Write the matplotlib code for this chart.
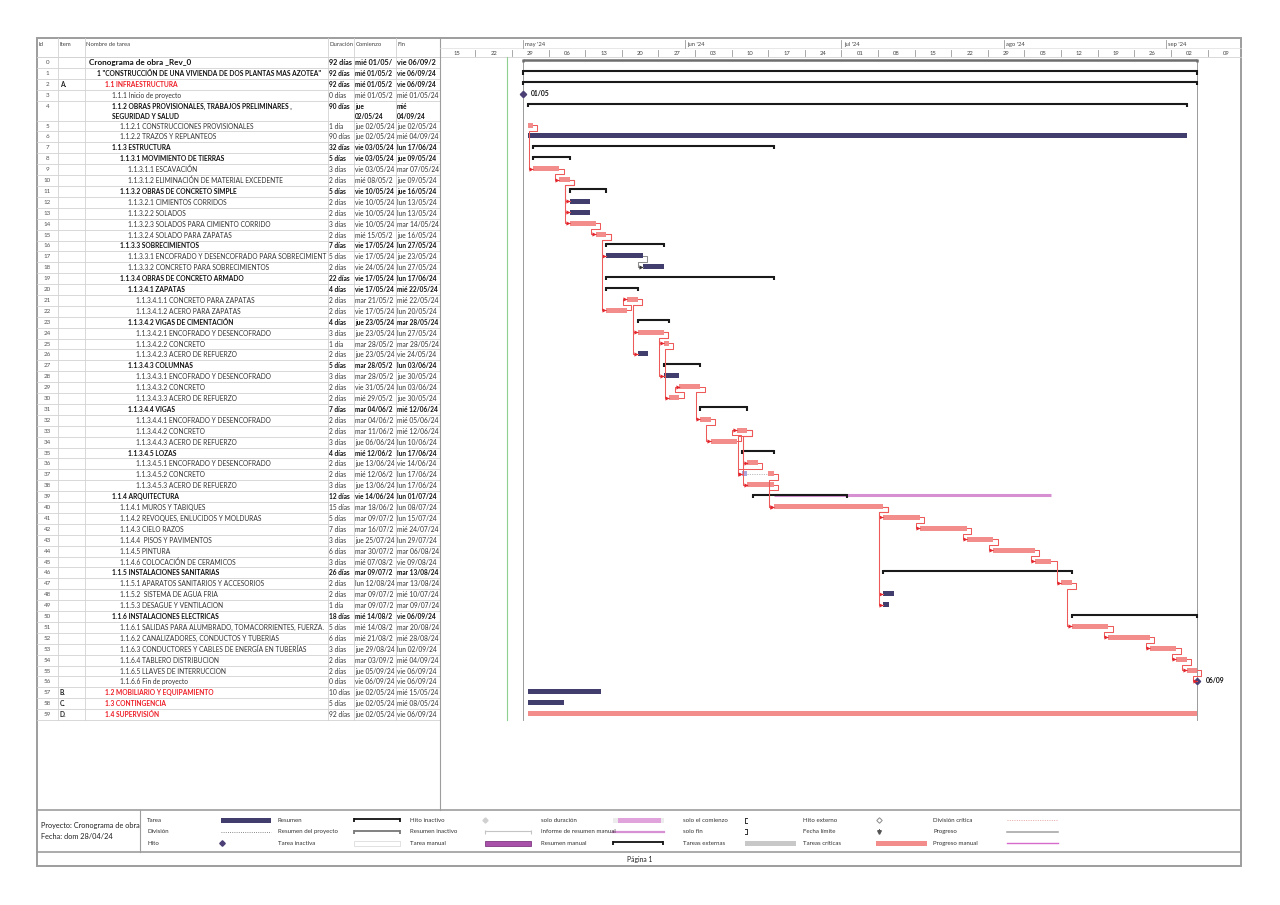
import datetime as dt
import matplotlib
matplotlib.use("Agg")
import matplotlib.pyplot as plt
import matplotlib.dates as mdates
from matplotlib.patches import Rectangle

plt.rcParams['font.family'] = ['Lato', 'DejaVu Sans']

# ---------------- DATA ----------------
names = [
    "Cronograma de obra _Rev_0",
    '1 "CONSTRUCCIÓN DE UNA VIVIENDA DE DOS PLANTAS MAS AZOTEA"',
    "1.1 INFRAESTRUCTURA",
    "1.1.1 Inicio de proyecto",
    "1.1.2 OBRAS PROVISIONALES, TRABAJOS PRELIMINARES ,\nSEGURIDAD Y SALUD",
    "1.1.2.1 CONSTRUCCIONES PROVISIONALES",
    "1.1.2.2 TRAZOS Y REPLANTEOS",
    "1.1.3 ESTRUCTURA",
    "1.1.3.1 MOVIMIENTO DE TIERRAS",
    "1.1.3.1.1 ESCAVACIÓN",
    "1.1.3.1.2 ELIMINACIÓN DE MATERIAL EXCEDENTE",
    "1.1.3.2 OBRAS DE CONCRETO SIMPLE",
    "1.1.3.2.1 CIMIENTOS CORRIDOS",
    "1.1.3.2.2 SOLADOS",
    "1.1.3.2.3 SOLADOS PARA CIMIENTO CORRIDO",
    "1.1.3.2.4 SOLADO PARA ZAPATAS",
    "1.1.3.3 SOBRECIMIENTOS",
    "1.1.3.3.1 ENCOFRADO Y DESENCOFRADO PARA SOBRECIMIENTOS",
    "1.1.3.3.2 CONCRETO PARA SOBRECIMIENTOS",
    "1.1.3.4 OBRAS DE CONCRETO ARMADO",
    "1.1.3.4.1 ZAPATAS",
    "1.1.3.4.1.1 CONCRETO PARA ZAPATAS",
    "1.1.3.4.1.2 ACERO PARA ZAPATAS",
    "1.1.3.4.2 VIGAS DE CIMENTACIÓN",
    "1.1.3.4.2.1 ENCOFRADO Y DESENCOFRADO",
    "1.1.3.4.2.2 CONCRETO",
    "1.1.3.4.2.3 ACERO DE REFUERZO",
    "1.1.3.4.3 COLUMNAS",
    "1.1.3.4.3.1 ENCOFRADO Y DESENCOFRADO",
    "1.1.3.4.3.2 CONCRETO",
    "1.1.3.4.3.3 ACERO DE REFUERZO",
    "1.1.3.4.4 VIGAS",
    "1.1.3.4.4.1 ENCOFRADO Y DESENCOFRADO",
    "1.1.3.4.4.2 CONCRETO",
    "1.1.3.4.4.3 ACERO DE REFUERZO",
    "1.1.3.4.5 LOZAS",
    "1.1.3.4.5.1 ENCOFRADO Y DESENCOFRADO",
    "1.1.3.4.5.2 CONCRETO",
    "1.1.3.4.5.3 ACERO DE REFUERZO",
    "1.1.4 ARQUITECTURA",
    "1.1.4.1 MUROS Y TABIQUES",
    "1.1.4.2 REVOQUES, ENLUCIDOS Y MOLDURAS",
    "1.1.4.3 CIELO RAZOS",
    "1.1.4.4  PISOS Y PAVIMENTOS",
    "1.1.4.5 PINTURA",
    "1.1.4.6 COLOCACIÓN DE CERAMICOS",
    "1.1.5 INSTALACIONES SANITARIAS",
    "1.1.5.1 APARATOS SANITARIOS Y ACCESORIOS",
    "1.1.5.2  SISTEMA DE AGUA FRIA",
    "1.1.5.3 DESAGUE Y VENTILACION",
    "1.1.6 INSTALACIONES ELECTRICAS",
    "1.1.6.1 SALIDAS PARA ALUMBRADO, TOMACORRIENTES, FUERZA.",
    "1.1.6.2 CANALIZADORES, CONDUCTOS Y TUBERIAS",
    "1.1.6.3 CONDUCTORES Y CABLES DE ENERGÍA EN TUBERÍAS",
    "1.1.6.4 TABLERO DISTRIBUCION",
    "1.1.6.5 LLAVES DE INTERRUCCION",
    "1.1.6.6 Fin de proyecto",
    "1.2 MOBILIARIO Y EQUIPAMIENTO",
    "1.3 CONTINGENCIA",
    "1.4 SUPERVISIÓN",
]

outline_levels = [0, 1, 2, 3, 3, 4, 4, 3, 4, 5, 5, 4, 5, 5, 5, 5, 4, 5, 5, 4,
                  5, 6, 6, 5, 6, 6, 6, 5, 6, 6, 6, 5, 6, 6, 6, 5, 6, 6, 6, 3,
                  4, 4, 4, 4, 4, 4, 3, 4, 4, 4, 3, 4, 4, 4, 4, 4, 4, 2, 2, 2]

items = [""] * 60
items[2], items[57], items[58], items[59] = "A.", "B.", "C.", "D."

durations = [92, 92, 92, 0, 90, 1, 90, 32, 5, 3, 2, 5, 2, 2, 3, 2, 7, 5, 2, 22,
             4, 2, 2, 4, 3, 1, 2, 5, 3, 2, 2, 7, 2, 2, 3, 4, 2, 2, 3, 12,
             15, 5, 7, 3, 6, 3, 26, 2, 2, 1, 18, 5, 6, 3, 2, 2, 0, 10, 5, 92]

starts = [
    "2024-05-01", "2024-05-01", "2024-05-01", "2024-05-01", "2024-05-02",
    "2024-05-02", "2024-05-02", "2024-05-03", "2024-05-03", "2024-05-03",
    "2024-05-08", "2024-05-10", "2024-05-10", "2024-05-10", "2024-05-10",
    "2024-05-15", "2024-05-17", "2024-05-17", "2024-05-24", "2024-05-17",
    "2024-05-17", "2024-05-21", "2024-05-17", "2024-05-23", "2024-05-23",
    "2024-05-28", "2024-05-23", "2024-05-28", "2024-05-28", "2024-05-31",
    "2024-05-29", "2024-06-04", "2024-06-04", "2024-06-11", "2024-06-06",
    "2024-06-12", "2024-06-13", "2024-06-12", "2024-06-13", "2024-06-14",
    "2024-06-18", "2024-07-09", "2024-07-16", "2024-07-25", "2024-07-30",
    "2024-08-07", "2024-07-09", "2024-08-12", "2024-07-09", "2024-07-09",
    "2024-08-14", "2024-08-14", "2024-08-21", "2024-08-29", "2024-09-03",
    "2024-09-05", "2024-09-06", "2024-05-02", "2024-05-02", "2024-05-02",
]

finishes = [
    "2024-09-06", "2024-09-06", "2024-09-06", "2024-05-01", "2024-09-04",
    "2024-05-02", "2024-09-04", "2024-06-17", "2024-05-09", "2024-05-07",
    "2024-05-09", "2024-05-16", "2024-05-13", "2024-05-13", "2024-05-14",
    "2024-05-16", "2024-05-27", "2024-05-23", "2024-05-27", "2024-06-17",
    "2024-05-22", "2024-05-22", "2024-05-20", "2024-05-28", "2024-05-27",
    "2024-05-28", "2024-05-24", "2024-06-03", "2024-05-30", "2024-06-03",
    "2024-05-30", "2024-06-12", "2024-06-05", "2024-06-12", "2024-06-10",
    "2024-06-17", "2024-06-14", "2024-06-17", "2024-06-17", "2024-07-01",
    "2024-07-08", "2024-07-15", "2024-07-24", "2024-07-29", "2024-08-06",
    "2024-08-09", "2024-08-13", "2024-08-13", "2024-07-10", "2024-07-09",
    "2024-09-06", "2024-08-20", "2024-08-28", "2024-09-02", "2024-09-04",
    "2024-09-06", "2024-09-06", "2024-05-15", "2024-05-08", "2024-09-06",
]

summary_rows = [1, 2, 4, 7, 8, 11, 16, 19, 20, 23, 27, 31, 35, 39, 46, 50]
milestone_rows = [3, 56]
noncritical_rows = [6, 12, 13, 17, 18, 26, 28, 48, 49, 57, 58]
split_rows = {37: [("2024-06-12", "2024-06-12"), ("2024-06-17", "2024-06-17")]}
red_name_rows = [2, 57, 58, 59]
manual_rollup = {39: [40, 41, 42, 43, 44, 45]}

links = [(5, 9), (9, 10), (10, 12), (10, 13), (10, 14), (14, 15), (15, 17),
         (15, 22), (17, 18), (22, 21), (21, 24), (21, 26), (24, 25), (24, 28),
         (25, 30), (30, 29), (29, 32), (32, 34), (34, 33), (33, 36), (33, 37),
         (33, 38), (36, 37), (37, 40), (38, 40), (40, 41), (40, 48), (40, 49),
         (41, 42), (42, 43), (43, 44), (44, 45), (45, 47), (47, 51), (51, 52),
         (52, 53), (53, 54), (54, 55), (55, 56)]

status_date = "2024-04-28"
view_start = "2024-04-15 05:20"
view_end = "2024-09-15 09:40"

weekdays_es = ["lun", "mar", "mié", "jue", "vie", "sáb", "dom"]
months_es = ["ene", "feb", "mar", "abr", "may", "jun", "jul", "ago", "sep",
             "oct", "nov", "dic"]

# ---------------- STYLE ----------------
C_CRIT = "#F38D8B"
C_TASK = "#413D6C"
C_LINK = "#EE5A5A"
C_TXT = "#333333"
C_RED = "#EE1C25"
C_GRID = "#d2d2d2"
C_FRAME = "#9d9d9d"
FS = 4.8
FS_BOLD = 4.7
FS_NAME = 4.8

W, H = 1280, 905
fig = plt.figure(figsize=(W / 100, H / 100), dpi=100)
renderer = fig.canvas.get_renderer()
tx = fig.add_axes([0, 0, 1, 1])
tx.set_xlim(0, W)
tx.set_ylim(H, 0)
tx.axis("off")

G_L, G_R, G_T, G_B = 440, 1241, 38, 810
gx = fig.add_axes([G_L / W, (H - G_B) / H, (G_R - G_L) / W, (G_B - G_T) / H])
gx.axis("off")
gx.set_ylim(G_B, G_T)


def dnum(s):
    return mdates.date2num(dt.datetime.fromisoformat(s))


gx.set_xlim(dnum(view_start), dnum(view_end))


def dstr(s):
    d = dt.date.fromisoformat(s)
    return f"{weekdays_es[d.weekday()]} {d:%d/%m/%y}"


def durstr(n):
    return f"{n} día" if n == 1 else f"{n} días"


def cell_text(x, y, s, xmax, **kw):
    """Text cut to the visible width of its table cell, as the reference shows."""
    t = tx.text(x, y, s, **kw)
    while len(s) > 1 and t.get_window_extent(renderer).x1 > xmax - 0.3:
        s = s[:-1]
        t.set_text(s)
    return t


n = len(names)
row_h = [10.9] * n
row_h[4] = 20.0
tops = []
yy = 57.0
for h in row_h:
    tops.append(yy)
    yy += h
table_bottom = yy
centers = [t + 5.45 for t in tops]

# ---------------- TABLE ----------------
col_x = [37, 58, 85, 328, 354, 396, 440]
for y in tops + [table_bottom]:
    tx.plot([37, 440], [y, y], color=C_GRID, lw=0.6)
for x in col_x[1:-1]:
    tx.plot([x, x], [38, table_bottom], color=C_GRID, lw=0.6)
tx.plot([37, 1241], [57, 57], color=C_GRID, lw=0.6)

headers = ["Id", "Item", "Nombre de tarea", "Duración", "Comienzo", "Fin"]
for i, hd in enumerate(headers):
    cell_text(col_x[i] + 1.5, 44, hd, col_x[i + 1] + 1,
              fontsize=4.3, color="#444", va="center", ha="left")

for i in range(n):
    top, h = tops[i], row_h[i]
    c = centers[i]
    is_sum = i == 0 or i in summary_rows
    bold_name = is_sum or i in red_name_rows
    tw_data = "bold" if is_sum else "normal"
    tx.text(47.5, c, str(i), fontsize=4.5, color="#555", ha="center", va="center")
    if items[i]:
        tx.text(60, c, items[i], fontsize=FS, color="#222", fontweight="bold",
                ha="left", va="center")
    ncol = C_RED if i in red_name_rows else ("#111" if bold_name else C_TXT)
    nfs = 5.9 if i == 0 else FS_NAME
    for k, line in enumerate(names[i].split("\n")):
        cell_text(89 + outline_levels[i] * 7.8, c + k * 10.6, line, 328,
                  fontsize=nfs, color=ncol,
                  fontweight="bold" if bold_name else "normal",
                  ha="left", va="center")
    dcol = "#111" if is_sum else C_TXT
    dfs = 5.2 if i == 0 else (FS_BOLD if is_sum else FS)
    cell_text(329, c, durstr(durations[i]), 354,
              fontsize=dfs, color=dcol, fontweight=tw_data, ha="left", va="center")
    for j, src in ((4, starts[i]), (5, finishes[i])):
        s = dstr(src)
        lines = s.split(" ") if h > 15 else [s]
        for k, line in enumerate(lines):
            cell_text(col_x[j] + 1, c + k * 10.6, line, col_x[j + 1] - 0.5,
                      fontsize=dfs, color=dcol, fontweight=tw_data,
                      ha="left", va="center")

# ---------------- GANTT HEADER ----------------
x0v, x1v = gx.get_xlim()
gx.plot([x0v, x1v], [48, 48], color="#dddddd", lw=0.5, clip_on=False)
d = mdates.num2date(x0v).date()
while mdates.date2num(dt.datetime(d.year, d.month, d.day)) <= x1v:
    dn = mdates.date2num(dt.datetime(d.year, d.month, d.day))
    if d.day == 1 and dn >= x0v:
        gx.plot([dn, dn], [40, 48], color="#9a9a9a", lw=0.6)
        gx.text(dn + 0.5, 44.3, f"{months_es[d.month - 1]} '{d:%y}", fontsize=4.2,
                color="#444", ha="left", va="center")
    if d.weekday() == 0:
        if dn > x0v:
            gx.plot([dn, dn], [50, 56], color="#9a9a9a", lw=0.6)
        if dn + 3.5 < x1v:
            gx.text(dn + 3.5, 53, f"{d.day:02d}", fontsize=4.2, color="#444",
                    ha="center", va="center")
    d += dt.timedelta(days=1)

# ---------------- GANTT BODY ----------------
proj_s = dnum(starts[0])
proj_f = dnum(finishes[0]) + 1
gx.plot([dnum(status_date)] * 2, [57, table_bottom], color="#8fcf8f", lw=0.8)
gx.plot([proj_s] * 2, [60, table_bottom], color="#8a8a8a", lw=0.6)
gx.plot([proj_f] * 2, [60, table_bottom], color="#8a8a8a", lw=0.6)


def bracket(a, b, y, color, lw=1.5, cap=3.2):
    gx.plot([a, b], [y, y], color=color, lw=lw, solid_capstyle="butt")
    gx.plot([a, a], [y - 1, y + cap], color=color, lw=lw, solid_capstyle="butt")
    gx.plot([b, b], [y - 1, y + cap], color=color, lw=lw, solid_capstyle="butt")


def bar_span(i):
    return dnum(starts[i]), dnum(finishes[i]) + 1


def ms_x(i):
    return dnum(finishes[i]) + 1 if dnum(finishes[i]) + 1 >= proj_f else dnum(starts[i])


def is_crit(i):
    return (i not in summary_rows and i not in noncritical_rows
            and i not in milestone_rows and i != 0)


# rollups
for r, kids in manual_rollup.items():
    a = min(dnum(starts[k]) for k in kids)
    b = max(dnum(finishes[k]) + 1 for k in kids)
    gx.plot([a, b], [centers[r] - 1.2, centers[r] - 1.2], color="#D690D2", lw=2.2,
            solid_capstyle="butt")

bar_y = [c - 1 for c in centers]
for i in range(n):
    a, b = bar_span(i)
    if i == 0:
        bracket(a, b, centers[i] - 2.5, "#6e6e6e", lw=1.8, cap=2.5)
    elif i in summary_rows:
        bracket(a, b, centers[i] - 2, "#1a1a1a")
    elif i in milestone_rows:
        x = ms_x(i)
        gx.plot([x], [bar_y[i]], marker="D", ms=3.2, color="#4b3f76", mec="#4b3f76")
        gx.text(x + 1.6, bar_y[i] - 0.5, mdates.num2date(dnum(finishes[i])).strftime("%d/%m"),
                fontsize=4.9, fontweight="bold", color="#111", ha="left", va="center")
    elif i in split_rows:
        pcs = [(dnum(p), dnum(q) + 1) for p, q in split_rows[i]]
        for k, (p, q) in enumerate(pcs):
            gx.barh(bar_y[i], q - p, left=p, height=5,
                    color="#a9a6dc" if k == 0 else C_CRIT, lw=0)
        gx.plot([pcs[0][1], pcs[1][0]], [bar_y[i], bar_y[i]], color="#bcbcbc",
                lw=0.7, ls=(0, (1.2, 1.2)))
    else:
        gx.barh(bar_y[i], b - a, left=a, height=5,
                color=C_CRIT if is_crit(i) else C_TASK, lw=0)

# links
dd = 4.4 / 5.229


def start_x(i):
    return ms_x(i) if i in milestone_rows else dnum(starts[i])


def end_x(i):
    return ms_x(i) if i in milestone_rows else dnum(finishes[i]) + 1


for p, s in links:
    pe, ss = end_x(p), start_x(s)
    yp, ys = bar_y[p], bar_y[s]
    col = C_LINK if is_crit(p) or (p in split_rows) else "#8c8c8c"
    sign = 1 if ys > yp else -1
    if ss - pe >= 2 * dd:
        xs = [pe, ss - dd, ss - dd, ss]
        ys_ = [yp, yp, ys, ys]
    else:
        ym = yp + sign * (row_h[p] / 2 + 0.3)
        xs = [pe, pe + dd, pe + dd, ss - dd, ss - dd, ss]
        ys_ = [yp, yp, ym, ym, ys, ys]
    gx.plot(xs, ys_, color=col, lw=0.75, solid_joinstyle="round")
    gx.plot([ss - 0.35], [ys], marker=">", ms=3.0, color="#E3262E" if col == C_LINK else "#333",
            mew=0)

# ---------------- FRAME ----------------
tx.add_patch(Rectangle((37, 38), 1204, 828, fill=False, ec=C_FRAME, lw=1.4))
tx.plot([440, 440], [38, G_B], color=C_FRAME, lw=0.8)
tx.plot([37, 1241], [G_B, G_B], color=C_FRAME, lw=1.2)
tx.plot([37, 1241], [852, 852], color=C_FRAME, lw=1.2)
tx.plot([140, 140], [G_B, 852], color=C_FRAME, lw=0.8)

# ---------------- LEGEND ----------------
sd = dt.date.fromisoformat(status_date)
tx.text(41, 825, f"Proyecto: {names[0].split(' _')[0]}", fontsize=5.3, color="#222",
        ha="left", va="center")
tx.text(41, 836, f"Fecha: {weekdays_es[sd.weekday()]} {sd:%d/%m/%y}",
        fontsize=5.3, color="#222", ha="left", va="center")
tx.text(640, 859, "Página 1", fontsize=4.9, color="#222", ha="center", va="center")

LY = [820, 831.5, 843]
LF = 4.4
legend_cols = [
    (147, ["Tarea", "División", "Hito"]),
    (278, ["Resumen", "Resumen del proyecto", "Tarea inactiva"]),
    (410, ["Hito inactivo", "Resumen inactivo", "Tarea manual"]),
    (541, ["solo duración", "Informe de resumen manual", "Resumen manual"]),
    (683, ["solo el comienzo", "solo fin", "Tareas externas"]),
    (803, ["Hito externo", "Fecha límite", "Tareas críticas"]),
    (933, ["División crítica", "Progreso", "Progreso manual"]),
]
for x, labs in legend_cols:
    for y, lab in zip(LY, labs):
        tx.text(x, y, lab, fontsize=LF, color="#333", ha="left", va="center")


def lbracket(a, b, y, color, lw=1.3):
    tx.plot([a, b], [y - 1.5, y - 1.5], color=color, lw=lw, solid_capstyle="butt")
    tx.plot([a, a], [y - 2.5, y + 1.5], color=color, lw=lw, solid_capstyle="butt")
    tx.plot([b, b], [y - 2.5, y + 1.5], color=color, lw=lw, solid_capstyle="butt")


tx.add_patch(Rectangle((221, LY[0] - 2.5), 50, 5, color=C_TASK, lw=0))
tx.plot([221, 271], [LY[1], LY[1]], color="#666", lw=0.6, ls=(0, (1, 1.6)))
tx.plot([222], [LY[2]], marker="D", ms=2.8, color="#4b3f76")
lbracket(354, 400, LY[0] + 0.5, "#111")
lbracket(354, 400, LY[1] + 0.5, "#777")
tx.add_patch(Rectangle((354, LY[2] - 2.5), 46, 5, fc="white", ec="#d5d5d5", lw=0.5))
tx.plot([485], [LY[0]], marker="D", ms=2.6, color="#d0d0d0")
lbracket(485, 531, LY[1] + 0.5, "#c4c4c4", lw=0.8)
tx.add_patch(Rectangle((485, LY[2] - 2.5), 46, 5, fc="#A850AA", ec="#7d3a80", lw=0.6))
tx.add_patch(Rectangle((613, LY[0] - 2.5), 51, 5, fc="#ececec", lw=0))
tx.add_patch(Rectangle((618, LY[0] - 2.5), 43, 5, fc="#E0A3DC", lw=0))
tx.plot([613, 664], [LY[1], LY[1]], color="#D890D4", lw=1.6)
lbracket(613, 663, LY[2] + 0.5, "#111")
tx.plot([745, 745], [LY[0] - 2.5, LY[0] + 2.5], color="#333", lw=0.7)
tx.plot([745, 747], [LY[0] - 2.5, LY[0] - 2.5], color="#333", lw=0.7)
tx.plot([745, 747], [LY[0] + 2.5, LY[0] + 2.5], color="#333", lw=0.7)
tx.plot([747, 747], [LY[1] - 2.5, LY[1] + 2.5], color="#333", lw=0.7)
tx.plot([745, 747], [LY[1] - 2.5, LY[1] - 2.5], color="#333", lw=0.7)
tx.plot([745, 747], [LY[1] + 2.5, LY[1] + 2.5], color="#333", lw=0.7)
tx.add_patch(Rectangle((745, LY[2] - 2.5), 51, 5, color="#c8c8c8", lw=0))
tx.plot([879], [LY[0]], marker="D", ms=2.8, mfc="white", mec="#8a8a8a", mew=0.7)
tx.plot([879, 879], [LY[1] - 2.8, LY[1] + 0.5], color="#555", lw=0.7)
tx.plot([879], [LY[1] + 0.8], marker="v", ms=2.6, color="#555")
tx.add_patch(Rectangle((876, LY[2] - 2.5), 51, 5, color=C_CRIT, lw=0))
tx.plot([1007, 1058], [LY[0], LY[0]], color="#E8A4A4", lw=0.7, ls=(0, (1, 1.4)))
tx.plot([1007, 1058], [LY[1], LY[1]], color="#a0a0a0", lw=1.1)
tx.plot([1007, 1058], [LY[2], LY[2]], color="#D66BCB", lw=1.0)

fig.savefig("out.png", dpi=100)
